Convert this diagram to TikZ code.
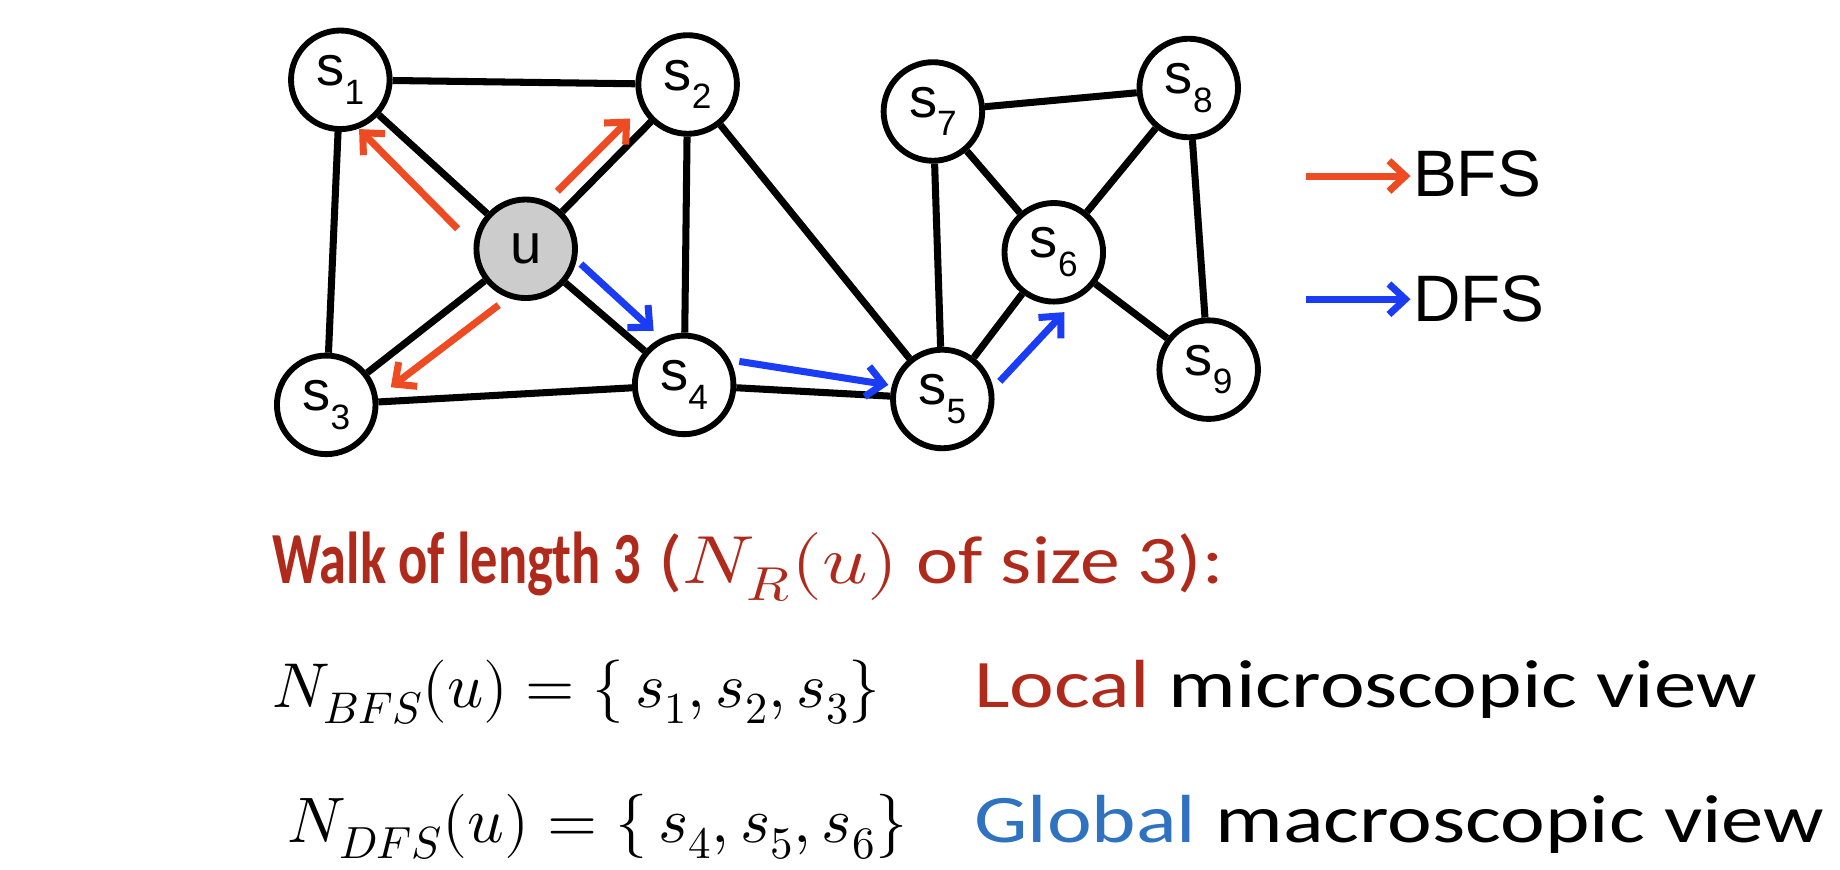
\documentclass[tikz,border=0pt]{standalone}
\usepackage{fontspec}
\usepackage{unicode-math}
\setmainfont{Carlito}
\setmathfont{Latin Modern Math}
\newfontfamily\arial{Liberation Sans}
\usetikzlibrary{arrows.meta}
\definecolor{bfsred}{HTML}{EE4B22}
\definecolor{dfsblue}{HTML}{1A3CF5}
\definecolor{darkred}{HTML}{B02A1C}
\definecolor{gblue}{HTML}{2E72C0}
\newcommand{\sn}[1]{s\raisebox{-0.33em}{\fontsize{30}{30}\selectfont #1}}
\begin{document}
\begin{tikzpicture}[x=1pt,y=-1pt,
  vtx/.style={circle,draw=black,line width=5pt,fill=white,minimum size=84pt,inner sep=0pt,font=\arial\fontsize{48}{48}\selectfont},
  edge/.style={line width=6pt},
  bfsarr/.style={draw=bfsred,line width=6pt,-{Straight Barb[length=14pt,width=26pt]}},
  dfsarr/.style={draw=dfsblue,line width=6pt,-{Straight Barb[length=14pt,width=26pt]}},
  big/.style={font=\fontsize{58}{70}\selectfont,anchor=base west,inner sep=0pt}]
\useasboundingbox (0,0) rectangle (1568,741);
\node[vtx] (s1) at (290,68) {\sn1};
\node[vtx] (s2) at (586,72) {\sn2};
\node[vtx,fill=black!20] (u) at (448,212) {u};
\node[vtx] (s3) at (278,345) {\sn3};
\node[vtx] (s4) at (583,328) {\sn4};
\node[vtx] (s5) at (803,340) {\sn5};
\node[vtx] (s6) at (898,215) {\sn6};
\node[vtx] (s7) at (795,95) {\sn7};
\node[vtx] (s8) at (1013,75) {\sn8};
\node[vtx] (s9) at (1030,315) {\sn9};
\foreach \a/\b in {s1/s2,s1/u,s1/s3,u/s2,u/s3,u/s4,s2/s4,s2/s5,s3/s4,s4/s5,s5/s7,s5/s6,s6/s7,s6/s8,s6/s9,s7/s8,s8/s9}
  \draw[edge] (\a) -- (\b);
\coordinate (a1s) at (390,195); \coordinate (a1e) at (306,110);
\coordinate (a2s) at (475,163); \coordinate (a2e) at (537,101);
\coordinate (a3s) at (425,260); \coordinate (a3e) at (333,330);
\coordinate (b1s) at (495,225); \coordinate (b1e) at (557,282);
\coordinate (b2s) at (630,308); \coordinate (b2e) at (757,328);
\coordinate (b3s) at (852,325); \coordinate (b3e) at (907,266);
\draw[bfsarr] (a1s) -- (a1e);
\draw[bfsarr] (a2s) -- (a2e);
\draw[bfsarr] (a3s) -- (a3e);
\draw[dfsarr] (b1s) -- (b1e);
\draw[dfsarr] (b2s) -- (b2e);
\draw[dfsarr] (b3s) -- (b3e);
\coordinate (l1s) at (1113,150); \coordinate (l1e) at (1202,150);
\coordinate (l2s) at (1113,255); \coordinate (l2e) at (1202,255);
\draw[bfsarr] (l1s) -- (l1e);
\draw[dfsarr] (l2s) -- (l2e);
\node[anchor=west,inner sep=0pt,font=\arial\fontsize{56}{56}\selectfont] (bfs) at (1204,148) {BFS};
\node[anchor=west,inner sep=0pt,font=\arial\fontsize{56}{56}\selectfont] (dfs) at (1204,255) {DFS};
\node[big,text=darkred] (t1) at (232,497) {\scalebox{0.8}[1.08]{\textbf{Walk of length 3}}\scalebox{1.17}[1]{ ($N_R(u)$ of size 3):}};
\node[big] (t2) at (232,603) {\resizebox{518pt}{!}{$N_{BFS}(u) = \{\, s_1, s_2, s_3\}$}};
\node[big] (t3) at (830,603) {\scalebox{1.245}[1]{\textcolor{darkred}{Local} microscopic view}};
\node[big] (t4) at (245,718) {\resizebox{528pt}{!}{$N_{DFS}(u) = \{\, s_4, s_5, s_6\}$}};
\node[big] (t5) at (830,718) {\scalebox{1.245}[1]{\textcolor{gblue}{Global} macroscopic view}};
\end{tikzpicture}
\end{document}
